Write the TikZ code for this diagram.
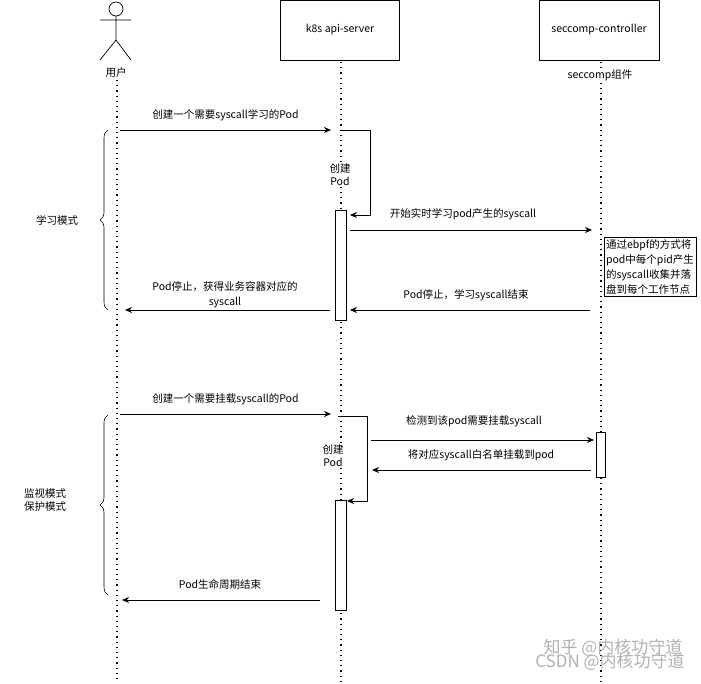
\documentclass[tikz,border=0pt]{standalone}
\usepackage{fontspec}
\setmainfont{Noto Sans CJK SC}
\usetikzlibrary{arrows.meta,decorations.pathreplacing}
\begin{document}
\begin{tikzpicture}[x=1pt,y=-1pt,font=\fontsize{10.5}{13}\selectfont,
  life/.style={line width=1.2pt,dash pattern=on 1.2pt off 4pt},
  msg/.style={-{Stealth[length=7pt,width=6pt]},line width=0.7pt},
  box/.style={draw,fill=white,line width=0.7pt},
  lbl/.style={inner sep=1pt,fill=white,align=center},
  br/.style={decorate,decoration={brace,amplitude=8pt,mirror},line width=0.6pt}]
\useasboundingbox (0,0) rectangle (701,683);
% lifelines
\coordinate (uT) at (117,80); \coordinate (uB) at (117,683);
\coordinate (aT) at (341,62); \coordinate (aB) at (341,683);
\coordinate (sT) at (601,62); \coordinate (sB) at (601,683);
\draw[life] (uT) -- (uB);
\draw[life] (aT) -- (aB);
\draw[life] (sT) -- (sB);
% actor
\draw[line width=0.7pt] (116,9) circle (7);
\draw[line width=0.7pt] (116,16) -- (116,40) (100,20) -- (131,20) (100,60) -- (116,40) -- (131,60);
\node[lbl] (user) at (116,73) {用户};
\node[box,minimum width=119pt,minimum height=60pt] (api) at (340,30) {k8s api-server};
\node[box,minimum width=120pt,minimum height=60pt] (sec) at (599,30) {seccomp-controller};
\node[lbl] (seclbl) at (600,75) {seccomp组件};
% activations
\node[box,minimum width=11pt,minimum height=110pt,inner sep=0pt] (act1) at (341,265) {};
\node[box,minimum width=11pt,minimum height=110pt,inner sep=0pt] (act2) at (341,555) {};
\node[box,minimum width=9pt,minimum height=45pt,inner sep=0pt] (act3) at (601,455) {};
% phase 1
\coordinate (m1s) at (120,130); \coordinate (m1e) at (331,130);
\draw[msg] (m1s) -- (m1e) node[midway,above=5pt] {创建一个需要syscall学习的Pod};
\coordinate (l1a) at (341,130); \coordinate (l1b) at (370,130); \coordinate (l1c) at (370,215); \coordinate (l1d) at (350,215);
\draw[msg] (l1a) -- (l1b) -- (l1c) -- (l1d);
\node[lbl] (c1) at (340,175) {创建\\Pod};
\coordinate (m2s) at (350,230); \coordinate (m2e) at (592,230);
\draw[msg] (m2s) -- (m2e);
\node (m2l) at (463,214) {开始实时学习pod产生的syscall};
\node[box,inner sep=2pt,align=left,font=\fontsize{10.5}{15}\selectfont] (note) at (650,267) {通过ebpf的方式将\\pod中每个pid产生\\的syscall收集并落\\盘到每个工作节点};
\coordinate (m3s) at (590,310); \coordinate (m3e) at (350,310);
\draw[msg] (m3s) -- (m3e);
\node (m3l) at (466,295) {Pod停止，学习syscall结束};
\coordinate (m4s) at (330,310); \coordinate (m4e) at (125,310);
\draw[msg] (m4s) -- (m4e);
\node[align=center,font=\fontsize{10.5}{15}\selectfont] (m4l) at (225,295) {Pod停止，获得业务容器对应的\\syscall};
\coordinate (b1t) at (108,130); \coordinate (b1b) at (108,310);
\draw[br] (b1t) -- (b1b);
\node (p1) at (57,220) {学习模式};
% phase 2
\coordinate (n1s) at (120,414); \coordinate (n1e) at (331,414);
\draw[msg] (n1s) -- (n1e) node[midway,above=5pt] {创建一个需要挂载syscall的Pod};
\coordinate (k1a) at (338,416); \coordinate (k1b) at (367,416); \coordinate (k1c) at (367,501); \coordinate (k1d) at (347,501);
\draw[msg] (k1a) -- (k1b) -- (k1c) -- (k1d);
\node[lbl] (c2) at (333,456) {创建\\Pod};
\coordinate (n2s) at (371,440); \coordinate (n2e) at (594,440);
\draw[msg] (n2s) -- (n2e);
\node (n2l) at (474,421) {检测到该pod需要挂载syscall};
\coordinate (n3s) at (591,470); \coordinate (n3e) at (372,470);
\draw[msg] (n3s) -- (n3e);
\node (n3l) at (481,455) {将对应syscall白名单挂载到pod};
\coordinate (n4s) at (320,600); \coordinate (n4e) at (122,600);
\draw[msg] (n4s) -- (n4e);
\node (n4l) at (220,584) {Pod生命周期结束};
\coordinate (b2t) at (108,415); \coordinate (b2b) at (108,595);
\draw[br] (b2t) -- (b2b);
\node[align=center] (p2) at (45,500) {监视模式\\保护模式};
% watermark
\node[text=black!30,font=\fontsize{17}{17}\selectfont] (w1) at (613,648) {知乎 @内核功守道};
\node[text=black!30,font=\fontsize{17}{17}\selectfont] (w2) at (610,662) {CSDN @内核功守道};
\end{tikzpicture}
\end{document}
